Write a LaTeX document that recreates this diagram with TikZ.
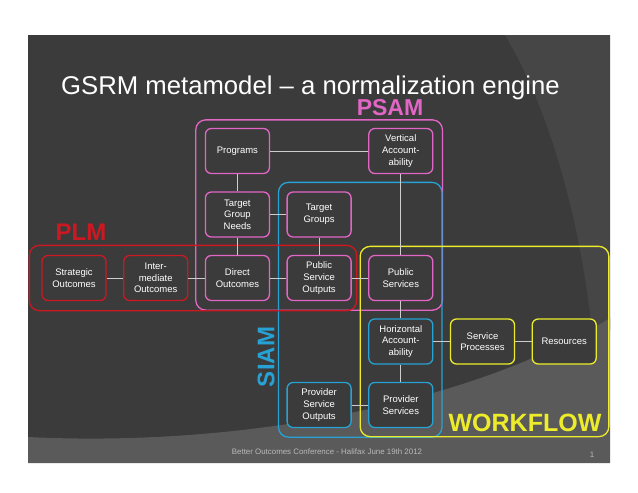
\documentclass[tikz,border=0pt]{standalone}
\usepackage{fontspec}
\setmainfont{Liberation Sans}
\usepackage{xcolor}
\usepackage{tikz}
\usetikzlibrary{positioning,calc,backgrounds}

\definecolor{slidebg}{RGB}{59,59,59}
\definecolor{slidewedge}{RGB}{70,70,70}
\definecolor{slidefoot}{RGB}{90,90,90}
\definecolor{psamcol}{RGB}{226,102,198}
\definecolor{plmcol}{RGB}{204,24,32}
\definecolor{siamcol}{RGB}{38,162,212}
\definecolor{wfcol}{RGB}{236,236,42}
\definecolor{linkcol}{RGB}{205,205,205}

\begin{document}
\begin{tikzpicture}[
  x=1pt, y=-1pt,
  node distance=17.2pt and 16.4pt,
  box/.style={draw, line width=1.3pt, rounded corners=6pt, fill=slidebg,
              minimum width=64pt, minimum height=45pt, inner sep=2pt,
              align=center, text=white,
              font=\fontsize{9.5}{11.7}\selectfont},
  pbox/.style={box, draw=psamcol},
  rbox/.style={box, draw=plmcol},
  bbox/.style={box, draw=siamcol},
  ybox/.style={box, draw=wfcol},
  layer/.style={line width=1.3pt, rounded corners=10pt},
  tag/.style={font=\fontsize{24}{24}\selectfont\bfseries, inner sep=0pt},
  link/.style={draw=linkcol, line width=0.8pt},
]

% ── page and slide ──
\path[use as bounding box] (0,0) rectangle (638,493);
\begin{scope}[on background layer]
  \fill[white] (0,0) rectangle (638,493);
  \fill[slidebg] (28,35) rectangle (610,463);
  \begin{scope}
    \clip (28,35) rectangle (610,463);
    \fill[slidewedge] (505,35) .. controls (550,110) and (580,220) .. (592,330)
      -- (610,330) -- (610,35) -- cycle;
    \fill[slidefoot] (28,437) .. controls (250,448) and (480,400) .. (610,318)
      -- (610,463) -- (28,463) -- cycle;
  \end{scope}
\end{scope}

% ── title ──
\node[anchor=base west, text=white, font=\fontsize{25.7}{25.7}\selectfont,
      inner sep=0pt, text depth=0pt] (title) at (61,94)
  {GSRM metamodel – a normalization engine};

% ── outcome row ──
\node[rbox] (strat) at (74,278) {Strategic\\Outcomes};
\node[rbox, right=of strat] (inter) {Inter-\\mediate\\Outcomes};
\node[pbox, right=of inter] (direct) {Direct\\Outcomes};
\node[pbox, right=of direct] (pso) {Public\\Service\\Outputs};
\node[pbox, right=of pso] (pubs) {Public\\Services};

% ── upper rows ──
\node[pbox, above=of direct] (tgn) {Target\\Group\\Needs};
\node[pbox, above=of tgn] (prog) {Programs};
\node[pbox, above=of pso] (tg) {Target\\Groups};
\node[pbox] (vacc) at (pubs |- prog) {Vertical\\Account-\\ability};

% ── lower rows ──
\node[bbox, below=of pubs] (hacc) {Horizontal\\Account-\\ability};
\node[ybox, right=of hacc] (sproc) {Service\\Processes};
\node[ybox, right=of sproc] (res) {Resources};
\node[bbox, below=of hacc] (provs) {Provider\\Services};
\node[bbox, left=of provs] (provso) {Provider\\Service\\Outputs};

% ── links ──
\draw[link] (prog) -- (vacc);
\draw[link] (prog) -- (tgn);
\draw[link] (tgn) -- (tg);
\draw[link] (tgn) -- (direct);
\draw[link] (tg) -- (pso);
\draw[link] (vacc) -- (pubs);
\draw[link] (strat) -- (inter);
\draw[link] (inter) -- (direct);
\draw[link] (direct) -- (pso);
\draw[link] (pso) -- (pubs);
\draw[link] (pubs) -- (hacc);
\draw[link] (hacc) -- (sproc);
\draw[link] (sproc) -- (res);
\draw[link] (hacc) -- (provs);
\draw[link] (provso) -- (provs);

% ── model frames ──
\begin{scope}[on background layer]
  \draw[layer, draw=psamcol] ($(prog.north west)+(-9,-8)$) rectangle ($(pubs.south east)+(9,9)$);
  \draw[layer, draw=siamcol] ($(tg.north west)+(-8,-9)$) rectangle ($(provs.south east)+(8.5,9)$);
  \draw[layer, draw=wfcol] ($(pubs.north west)+(-8,-8.5)$) rectangle ($(res.east |- provs.south)+(12,8.5)$);
  \draw[layer, draw=plmcol] ($(strat.north west)+(-12,-9.5)$) rectangle ($(pso.south east)+(5,9.5)$);
\end{scope}

% ── frame names ──
\node[tag, text=psamcol, anchor=base, font=\fontsize{23}{23}\selectfont\bfseries] (psam) at (390,115) {PSAM};
\node[tag, text=plmcol] (plm) at (81,232) {PLM};
\node[tag, text=siamcol, rotate=90] (siam) at (266,357) {SIAM};
\node[tag, text=wfcol, font=\fontsize{25}{25}\selectfont\bfseries] (wf) at (525,423) {WORKFLOW};

% ── footer ──
\node[text=gray!55, font=\fontsize{7.9}{7.9}\selectfont] (foot) at (327,452)
  {Better Outcomes Conference - Halifax June 19th 2012};
\node[text=gray!55, font=\fontsize{7.9}{7.9}\selectfont] (pnum) at (592,455) {1};

\end{tikzpicture}
\end{document}
